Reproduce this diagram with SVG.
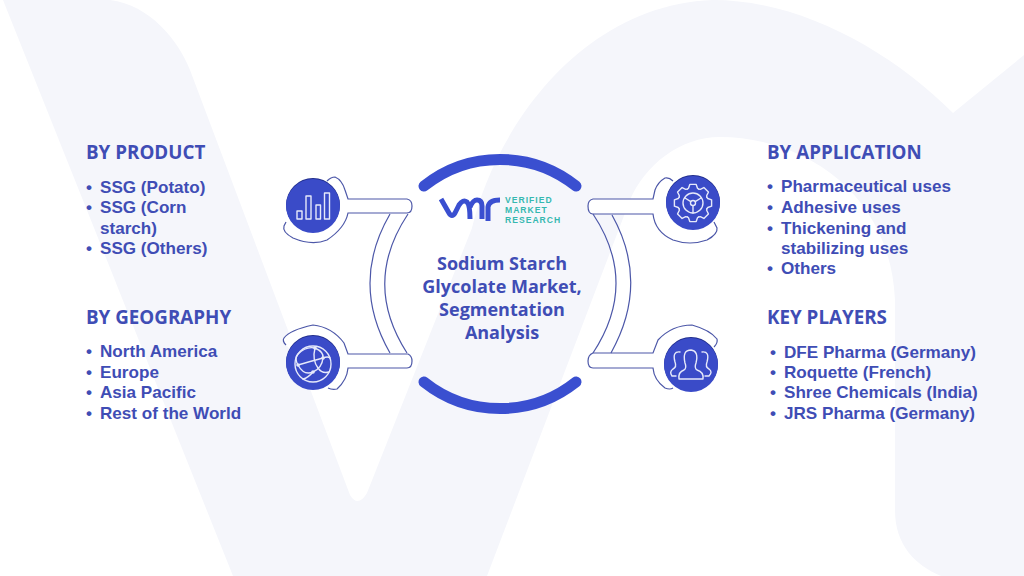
<svg xmlns="http://www.w3.org/2000/svg" width="1024" height="576" viewBox="0 0 1024 576">
<style>
.head{font-family:"Open Sans","Noto Sans",sans-serif;font-weight:700;font-size:18.8px;fill:#3f4db5}
.item{font-family:"Liberation Sans",Arial,sans-serif;font-weight:700;font-size:17.1px;fill:#3f4db5}
.title{font-family:"Open Sans","Noto Sans",sans-serif;font-weight:700;font-size:18px;fill:#3f4db5;text-anchor:middle}
.brand{font-family:"Liberation Sans",Arial,sans-serif;font-weight:700;font-size:8.6px;letter-spacing:1px;fill:#36b8b0}
.outline{fill:#fff;stroke:#4c57a8;stroke-width:1.2}
.line{fill:none;stroke:#4c57a8;stroke-width:1.2}
.arc{fill:none;stroke:#3a4fd0;stroke-width:11;stroke-linecap:round}
.disc{fill:#3a4bc8}
.rim{fill:#1f2c8c}
.ico{fill:none;stroke:#e6e9fa;stroke-width:1.4;stroke-linejoin:round;stroke-linecap:round}
</style>
<defs>
<g id="tooth"><path d="M-5.7,-13.9 L-4.5,-14.8 L-3.2,-18.6 H3.2 L4.5,-14.8 L5.7,-13.9"/></g>
</defs>
<rect width="1024" height="576" fill="#fff"/>
<path id="watermark" fill="#f5f6fb" d="M3,0 L110,0 C150,5 178,40 190,70 L350,495 Q358,508 367,493 L472,228 C495,130 580,5 713,0 C800,0 890,50 953,113 L1024,55 L1024,576 L941,576 C915,565 895,545 895,510 L895,300 C890,190 800,137 720,137 C680,137 645,165 630,200 L487,576 L233,576 Z"/>

<g id="connectors">
<path class="outline" d="M327,181 Q331,177 335,177 Q342,180 345,190 L348,199 H407 Q412,200 412,206 Q412,213 407,213 H348 Q345,228 327,240 Q312,246 293,238 Q282,232 284,226 L286,222"/>
<path class="outline" d="M286,345 Q282,341 284,338 Q290,330 313,325 Q332,327 344,343 L348,354 H408 Q412,356 412,361 Q412,368 407,368 H348 Q347,380 337,389 Q332,390 328,388"/>
<path class="outline" d="M673,181 Q669,177 665,178 Q658,182 655,190 L653,199 H593 Q588,200 588,206 Q588,214 593,214 H653 Q655,232 673,240 Q690,246 707,240 Q718,234 717,228 L714,222"/>
<path class="outline" d="M714,347 Q718,343 717,339 Q710,330 692,325 Q672,325 658,340 L653,353 H593 Q588,355 588,361 Q588,368 593,368 H653 Q654,380 665,388 Q670,390 673,388"/>
<path class="line" d="M390,214 Q350,283 390,353"/>
<path class="line" d="M408,214 Q362,283 407,353"/>
<path class="line" d="M593,214 Q639,283 593,353"/>
<path class="line" d="M612,215 Q650,283 611,353"/>
</g>

<g id="center">
<path class="arc" d="M424,186 A122,122 0 0 1 576,186"/>
<path class="arc" d="M424,382 A122,122 0 0 0 576,382"/>
<g id="logo">
<path fill="none" stroke="#3a4fd0" stroke-width="5" stroke-linejoin="round" d="M441,199 L449,213 Q452,218 455,213 L459,205 Q463,199 467,202 Q470,205 470,219 M470,207 Q473,200 477,200 Q482,200 482,206 V219 M488,221 V207 Q489,200 500,200"/>
<text class="brand" x="505" y="203">VERIFIED</text>
<text class="brand" x="505" y="213">MARKET</text>
<text class="brand" x="505" y="223">RESEARCH</text>
</g>
<text class="title" x="502" y="270">Sodium Starch</text>
<text class="title" x="502" y="293">Glycolate Market,</text>
<text class="title" x="502" y="316">Segmentation</text>
<text class="title" x="502" y="339">Analysis</text>
</g>

<g id="icon-product">
<circle class="rim" cx="313" cy="205" r="27"/><circle class="disc" cx="313" cy="206" r="27"/>
<g class="ico"><rect x="297" y="211" width="5" height="8"/><rect x="306" y="196" width="5" height="23"/><rect x="316" y="205" width="4.500" height="14"/><rect x="324.500" y="193" width="5" height="26"/></g>
</g>
<g id="icon-geography">
<circle class="rim" cx="313" cy="362" r="27"/><circle class="disc" cx="313" cy="363" r="27"/>
<g class="ico"><circle cx="313" cy="364" r="18"/>
<path d="M298,354 Q306,346 315,348 Q324,352 323,358 Q322,368 313,372 Q304,376 298,365 Q294,358 298,354Z"/>
<path d="M315,348 Q312,360 318,368 Q322,374 329,372 M298,365 Q308,362 323,358 Q328,356 330,358 M313,372 Q308,378 303,379"/></g>
<g fill="#e6e9fa"><circle cx="315" cy="348" r="1.800"/><circle cx="323" cy="358" r="1.800"/><circle cx="313" cy="372" r="1.800"/><circle cx="298" cy="365" r="1.800"/></g>
</g>
<g id="icon-application">
<circle class="rim" cx="693" cy="202" r="27"/><circle class="disc" cx="693" cy="203" r="27"/>
<g class="ico" transform="translate(693,203)">
<use href="#tooth"/><use href="#tooth" transform="rotate(45)"/><use href="#tooth" transform="rotate(90)"/><use href="#tooth" transform="rotate(135)"/><use href="#tooth" transform="rotate(180)"/><use href="#tooth" transform="rotate(225)"/><use href="#tooth" transform="rotate(270)"/><use href="#tooth" transform="rotate(315)"/>
<circle r="10"/><circle r="2.500"/><path d="M-8,-5 L-2.200,-1.300 M8,-5 L2.200,-1.300 M0,2.500 V10"/>
</g>
</g>
<g id="icon-players">
<circle class="rim" cx="691" cy="364" r="27"/><circle class="disc" cx="691" cy="365" r="27"/>
<g class="ico"><path d="M679,379 H703 Q704,372 697,370 Q694,368 696,363 Q699,351 691,350 Q682,350 685,363 Q687,368 684,370 Q678,372 679,379Z"/>
<path d="M680,352 Q672,351 675,362 Q677,367 673,369 Q669,372 672,376 H676"/><path d="M702,352 Q710,351 707,362 Q705,367 709,369 Q713,372 709,376 H705"/></g>
</g>

<g id="by-product">
<text class="head" x="86" y="159">BY PRODUCT</text>
<text class="item" x="86" y="193">•</text><text class="item" x="100" y="193">SSG (Potato)</text>
<text class="item" x="86" y="213">•</text><text class="item" x="100" y="213">SSG (Corn</text>
<text class="item" x="100" y="234">starch)</text>
<text class="item" x="86" y="254">•</text><text class="item" x="100" y="254">SSG (Others)</text>
</g>
<g id="by-geography">
<text class="head" x="86" y="324">BY GEOGRAPHY</text>
<text class="item" x="86" y="357">•</text><text class="item" x="100" y="357">North America</text>
<text class="item" x="86" y="378">•</text><text class="item" x="100" y="378">Europe</text>
<text class="item" x="86" y="398">•</text><text class="item" x="100" y="398">Asia Pacific</text>
<text class="item" x="86" y="419">•</text><text class="item" x="100" y="419">Rest of the World</text>
</g>
<g id="by-application">
<text class="head" x="767" y="159">BY APPLICATION</text>
<text class="item" x="767" y="192">•</text><text class="item" x="781" y="192">Pharmaceutical uses</text>
<text class="item" x="767" y="213">•</text><text class="item" x="781" y="213">Adhesive uses</text>
<text class="item" x="767" y="234">•</text><text class="item" x="781" y="234">Thickening and</text>
<text class="item" x="781" y="254">stabilizing uses</text>
<text class="item" x="767" y="274">•</text><text class="item" x="781" y="274">Others</text>
</g>
<g id="key-players">
<text class="head" x="767" y="324">KEY PLAYERS</text>
<text class="item" x="770" y="358">•</text><text class="item" x="784" y="358">DFE Pharma (Germany)</text>
<text class="item" x="770" y="378">•</text><text class="item" x="784" y="378">Roquette (French)</text>
<text class="item" x="770" y="398">•</text><text class="item" x="784" y="398">Shree Chemicals (India)</text>
<text class="item" x="770" y="419">•</text><text class="item" x="784" y="419">JRS Pharma (Germany)</text>
</g>
</svg>
